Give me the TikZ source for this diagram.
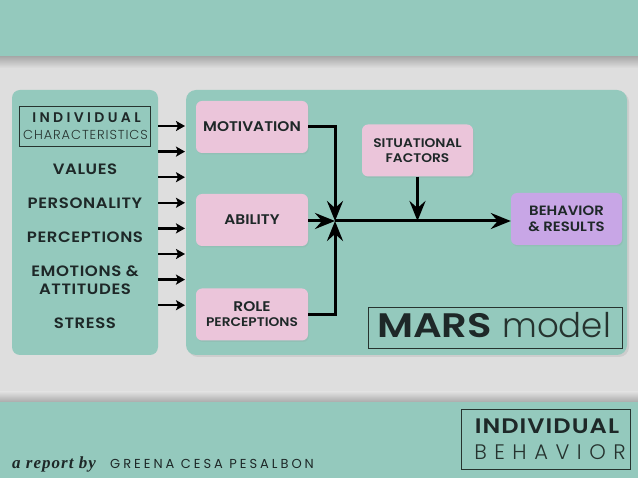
\documentclass[tikz,border=0pt]{standalone}
\usepackage{fontspec}
\setmainfont{Poppins}
\newfontfamily\semib{Poppins}[UprightFont=* SemiBold,FakeStretch=1.1]
\newfontfamily\semibitem{Poppins}[UprightFont=* SemiBold,FakeStretch=1.1,LetterSpace=4]
\newfontfamily\semibwide{Poppins}[UprightFont=* SemiBold,LetterSpace=24]
\newfontfamily\semibbig{Poppins}[UprightFont=* SemiBold,FakeStretch=1.15,LetterSpace=5]
\newfontfamily\semibmars{Poppins}[UprightFont=* SemiBold,FakeStretch=1.18]
\newfontfamily\lightf{Poppins}[UprightFont=* Light]
\newfontfamily\lightchar{Poppins}[UprightFont=* Light,LetterSpace=7]
\newfontfamily\lightwide{Poppins}[UprightFont=* Light,LetterSpace=36]
\newfontfamily\regwide{Poppins}[LetterSpace=23]
\newfontfamily\serifbi{Liberation Serif}[UprightFont=* Bold Italic,LetterSpace=6]
\usetikzlibrary{arrows.meta,shadows}
\definecolor{tealbg}{HTML}{94C9BD}
\definecolor{panelc}{HTML}{94C9BD}
\definecolor{greybg}{HTML}{DEDEDE}
\definecolor{shadowg}{HTML}{ABABAB}
\definecolor{pinkc}{HTML}{EBC5DA}
\definecolor{lavc}{HTML}{C8A6E6}
\definecolor{darkt}{HTML}{1E2828}
\definecolor{framec}{HTML}{26332F}
\tikzset{
  pbox/.style={rounded corners=6pt, fill=pinkc, minimum width=112pt, minimum height=52pt,
    align=center, inner sep=2pt, text=darkt, font=\semib\fontsize{14}{17}\selectfont,
    drop shadow={opacity=0.12, shadow xshift=1pt, shadow yshift=-1.5pt}},
  litem/.style={align=center, text=darkt, font=\semibitem\fontsize{15}{17.5}\selectfont},
  mainarrow/.style={line width=3pt, -{Stealth[length=20pt, width=16pt, inset=7pt]}},
  smallarrow/.style={line width=2.5pt, -{Stealth[length=9pt, width=10pt, inset=2pt]}},
  framebox/.style={draw=framec, line width=0.8pt, inner sep=0pt},
  plain/.style={inner sep=0pt}
}
\begin{document}
\begin{tikzpicture}[x=1pt,y=-1pt]
\useasboundingbox (0,0) rectangle (638,478);
% background bands
\fill[tealbg] (0,0) rectangle (638,57);
\fill[greybg] (0,57) rectangle (638,402);
\shade[top color=shadowg, bottom color=greybg] (0,57) rectangle (638,68);
\shade[top color=greybg, bottom color=shadowg] (0,392) rectangle (638,402);
\fill[tealbg] (0,402) rectangle (638,478);
% panels
\fill[panelc, rounded corners=8pt] (12,90) rectangle (158,355);
\fill[panelc, rounded corners=10pt, drop shadow={opacity=0.18, shadow xshift=2pt, shadow yshift=-2pt}] (186,90) rectangle (627,355);
% left items
\node[framebox, minimum width=131pt, minimum height=40pt] (icharbox) at (85,126) {};
\node[plain, text=darkt, font=\semibwide\fontsize{14}{16}\selectfont] (ind1) at (86.5,118) {INDIVIDUAL};
\node[plain, text=framec, font=\lightchar\fontsize{13}{15}\selectfont] (char1) at (85.5,135) {CHARACTERISTICS};
\node[litem] (values) at (85,169) {VALUES};
\node[litem] (pers) at (85,203) {PERSONALITY};
\node[litem] (perc) at (85,237) {PERCEPTIONS};
\node[litem] (emo) at (85,280) {EMOTIONS \&\\ATTITUDES};
\node[litem] (stress) at (85,323) {STRESS};
% small arrows
\foreach \i in {0,...,7}{
  \coordinate (la\i) at (158,126+25.6*\i);
  \coordinate (lb\i) at (185,126+25.6*\i);
  \draw[smallarrow] (la\i) -- (lb\i);
}
% model boxes
\node[pbox] (mot) at (252,127) {MOTIVATION};
\node[pbox] (abi) at (252,220) {ABILITY};
\node[pbox] (role) at (252,314.5) {ROLE\\[-2pt]{\fontsize{12.5}{14}\selectfont PERCEPTIONS}};
\node[pbox, minimum width=111pt, font=\semib\fontsize{12.5}{15.5}\selectfont] (sit) at (417.5,150.5) {SITUATIONAL\\FACTORS};
\node[pbox, fill=lavc, minimum width=111pt, font=\semib\fontsize{13.5}{16.5}\selectfont] (beh) at (566.5,219) {BEHAVIOR\\\& RESULTS};
% connectors
\coordinate (J) at (335,221);
\coordinate (S) at (sit.south |- J);
\draw[mainarrow] (mot.east) -| (J);
\draw[mainarrow] (role.east) -| (J);
\draw[mainarrow] (abi.east |- J) -- (J);
\draw[mainarrow] (J) -- (beh.west |- J);
\draw[mainarrow] (sit.south) -- (S);
% MARS model
\node[framebox, minimum width=254pt, minimum height=40.5pt] (marsbox) at (495,328) {};
\node[plain, anchor=base west, text=darkt, font=\semibmars\fontsize{34}{36}\selectfont] (mars) at (377,338) {MARS};
\node[plain, anchor=base east, text=framec, font=\lightf\fontsize{34}{36}\selectfont] (model) at (611,338) {model};
% footer
\node[framebox, minimum width=169pt, minimum height=60pt] (ibbox) at (546,439) {};
\node[plain, text=darkt, font=\semibbig\fontsize{21}{23}\selectfont] (ind2) at (547,426) {INDIVIDUAL};
\node[plain, text=framec, font=\lightwide\fontsize{21}{23}\selectfont] (behav) at (550,452.5) {BEHAVIOR};
\node[plain, anchor=base west, text=darkt, font=\serifbi\fontsize{17}{18}\selectfont] (rep) at (12,469) {a report by};
\node[plain, anchor=base west, text=darkt, font=\regwide\fontsize{13}{14}\selectfont] (auth) at (110,469) {GREENA CESA PESALBON};
\end{tikzpicture}
\end{document}
